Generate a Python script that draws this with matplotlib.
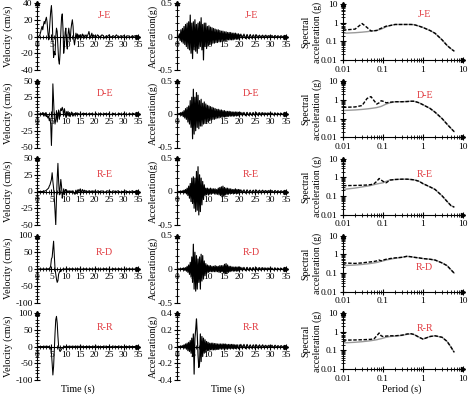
import numpy as np
import matplotlib
matplotlib.use("Agg")
from matplotlib import pyplot as plt
from matplotlib.ticker import MultipleLocator, FixedLocator, FuncFormatter, LogLocator, NullFormatter

plt.rcParams['font.family'] = ['Liberation Serif', 'DejaVu Serif']
plt.rcParams['font.size'] = 6.8
plt.rcParams['axes.unicode_minus'] = False

# record names (one per row)
names = ["J-E", "D-E", "R-E", "R-D", "R-R"]

# time grid: 0.25 s steps to 20 s, then 0.5 s steps to 35 s
t_main = np.arange(80) * 0.25
t_tail = 20 + np.arange(31) * 0.5
time = np.concatenate([t_main, t_tail])

# velocity (cm/s)
vel_je = [0, 0, 0, 0.5, 2, 5, 9, 12, 8, 14, 18, 15, 20, 23, 17, 6, -4, 5, 18, 30,
          37, 22, -5, -25, -18, -22, 0, 10, 6, -12, -28, -33, -20, 5, 22, 27, 10, -20, -12, 5,
          10, -8, -15, 2, 10, 3, -6, 8, 15, 20, 12, -4, -10, -3, 4, -2, 3, -3, 2, -1,
          2, -2, 1, 3, -1, 2, -2, 1, 2, -1, 1, 3, 6, 2, -2, 1, 4, -1, 2, 0,
          1, -1, 2, 0, -1, 2, 1, -2, 1, 0, 2, -1, 0, 1, -1, 2, 0, -1, 1, 0,
          1, -1, 0, 1, 0, -1, 1, 0, 1, 0, 0]
vel_de = [0, 0, 0, 0, 0, 1, -1, 1, 2, -2, 1, -3, 2, -4, -2, -6, -3, -10, -6, -15,
          -47, -10, 45, 20, -5, -15, -8, 5, -12, -3, 6, -8, 3, 8, 5, 10, 6, -3, 8, 2,
          -5, 3, -2, 4, -3, 2, -4, 1, 3, -2, 1, -3, 1, -1, 2, 0, -1, 1, 0, -1,
          1, 0, -1, 1, 0, -1, 1, 0, 1, 0, -1, 0, 1, -1, 0, 1, 0, 1, 0, -1,
          0, 1, -1, 0, 1, 0, -1, 1, 0, 0, 1, -1, 0, 1, 0, -1, 0, 1, 0, -1,
          1, 0, 0, -1, 1, 0, 0, 1, -1, 0, 0]
vel_re = [0, 0, 0, 0, 0, 0, 0, 0, 0, 1, 0, 1, 1, 2, 3, 4, 5, 8, 10, 14,
          18, 28, 15, 5, -10, -30, -50, -10, 20, 42, 15, -5, 5, 18, 8, -10, -3, 4, -5, 2,
          3, -2, 1, -1, 1, 0, -1, 1, 0, -1, 1, -2, -4, -1, 2, -3, 1, 3, -1, 2,
          4, 1, -2, 3, 1, -1, 2, 0, 1, 0, -1, 1, 0, 1, 0, -1, 1, 0, 0, 1,
          0, -1, 1, 0, 0, 1, 0, -1, 0, 1, 0, 0, -1, 1, 0, 0, 1, 0, -1, 0,
          0, 1, 0, 0, -1, 0, 1, 0, 0, 0, 0]
vel_rd = [0, 0, 0, 0, 0, 0, 0, 0, 0, 0, 0, 0, 0, 0, 1, 0, 1, 0, 2, 10,
          30, 35, 60, 83, 40, 0, -15, -30, -40, -35, -15, -10, -5, -8, -3, -1, 0, 1, 0, -1,
          1, 0, 0, 1, 0, -1, 0, 1, 0, 0, 1, 0, -1, 0, 1, 0, 0, 1, 0, 0,
          1, 0, -1, 0, 0, 1, 0, 0, 1, 0, 0, -1, 0, 0, 1, 0, 0, -1, 0, 0,
          0, 1, 0, 0, -1, 0, 0, 1, 0, 0, 0, -1, 0, 1, 0, 0, 0, 1, 0, 0,
          -1, 0, 0, 0, 1, 0, 0, 0, 0, 0, 0]
vel_rr = [0, 0, 0, 0, 0, 0, 0, 0, 0, 0, 0, 1, 0, -1, 1, 0, -1, 1, -2, -5,
          -20, -50, -85, -60, -10, 40, 80, 90, 70, 30, 0, -10, -15, -12, -8, -5, -3, 0, 1, -1,
          0, 1, 0, -1, 1, 0, 0, 1, 0, -1, 0, 1, 0, 0, 1, 0, -1, 0, 1, 0,
          0, 1, 0, 0, 1, 0, -1, 0, 0, 1, 0, 0, 1, 0, 0, -1, 0, 0, 1, 0,
          0, 1, 0, 0, -1, 0, 0, 1, 0, 0, 0, -1, 0, 1, 0, 0, 0, 1, 0, 0,
          -1, 0, 0, 0, 1, 0, 0, 0, 0, 0, 0]

# acceleration (g)
acc_tail_a = [-0.04, 0.035, -0.03, 0.035, -0.03, 0.03, -0.03, 0.03, -0.025, 0.025,
              -0.025, 0.025, -0.02, 0.02, -0.02, 0.02, -0.02, 0.02, -0.015, 0.015,
              -0.015, 0.015, -0.015, 0.015, -0.01, 0.01, -0.01, 0.01, -0.01, 0.005, 0]
acc_tail_b = [-0.03, 0.025, -0.025, 0.025, -0.025, 0.025, -0.02, 0.02, -0.02, 0.02,
              -0.02, 0.02, -0.02, 0.02, -0.02, 0.02, -0.015, 0.015, -0.015, 0.015,
              -0.015, 0.015, -0.015, 0.015, -0.01, 0.01, -0.01, 0.01, -0.01, 0.005, 0]
acc_je = [0, 0.01, -0.02, 0.04, -0.06, 0.1, -0.08, 0.12, -0.1, 0.15, -0.12, 0.18,
          -0.15, 0.2, -0.18, 0.22, -0.2, 0.32, -0.25, 0.2, -0.33, 0.22, -0.2, 0.25,
          -0.22, 0.18, -0.25, 0.2, -0.18, 0.22, -0.15, 0.28, -0.2, 0.18, -0.35, 0.2,
          -0.15, 0.2, -0.18, 0.15, -0.14, 0.16, -0.12, 0.14, -0.12, 0.13, -0.1, 0.12,
          -0.1, 0.11, -0.09, 0.1, -0.09, 0.1, -0.08, 0.09, -0.08, 0.08, -0.07, 0.08,
          -0.07, 0.07, -0.06, 0.07, -0.06, 0.06, -0.05, 0.06, -0.05, 0.06, -0.05, 0.05,
          -0.05, 0.05, -0.04, 0.05, -0.04, 0.04, -0.04, 0.04] + acc_tail_a
acc_de = [0, 0, 0, 0.01, -0.01, 0.02, -0.02, 0.03, -0.04, 0.05, -0.06, 0.08,
          -0.08, 0.1, -0.12, 0.12, -0.15, 0.2, -0.2, 0.25, -0.37, 0.37, -0.3, 0.25,
          -0.25, 0.32, -0.2, 0.28, -0.22, 0.2, -0.18, 0.22, -0.18, 0.16, -0.15, 0.18,
          -0.14, 0.15, -0.12, 0.13, -0.12, 0.12, -0.1, 0.11, -0.09, 0.1, -0.08, 0.09,
          -0.08, 0.08, -0.07, 0.07, -0.06, 0.07, -0.06, 0.06, -0.05, 0.06, -0.05, 0.05,
          -0.04, 0.05, -0.04, 0.04, -0.04, 0.04, -0.035, 0.04, -0.03, 0.035, -0.03, 0.03,
          -0.03, 0.03, -0.03, 0.03, -0.025, 0.03, -0.025, 0.025] + acc_tail_b
acc_re = [0, 0, 0, 0, 0, 0.005, -0.005, 0.01, -0.01, 0.02, -0.02, 0.03,
          -0.03, 0.05, -0.06, 0.08, -0.1, 0.12, -0.15, 0.2, -0.18, 0.22, -0.25, 0.2,
          -0.3, 0.3, -0.28, 0.37, -0.35, 0.25, -0.3, 0.2, -0.2, 0.15, -0.12, 0.1,
          -0.06, 0.05, -0.05, 0.05, -0.04, 0.04, -0.04, 0.05, -0.04, 0.04, -0.03, 0.04,
          -0.03, 0.04, -0.04, 0.03, -0.04, 0.05, -0.05, 0.06, -0.06, 0.07, -0.08, 0.08,
          -0.07, 0.06, -0.05, 0.05, -0.04, 0.05, -0.04, 0.04, -0.03, 0.04, -0.03, 0.03,
          -0.03, 0.03, -0.03, 0.04, -0.03, 0.03, -0.03, 0.03] + acc_tail_b
acc_rd = [0, 0, 0, 0, 0, 0.005, -0.005, 0.01, -0.01, 0.015, -0.02, 0.02,
          -0.03, 0.04, -0.05, 0.06, -0.08, 0.1, -0.12, 0.18, -0.2, 0.37, -0.3, 0.25,
          -0.33, 0.2, -0.3, 0.15, -0.2, 0.18, -0.3, 0.22, -0.18, 0.2, -0.15, 0.12,
          -0.1, 0.08, -0.07, 0.06, -0.05, 0.05, -0.04, 0.05, -0.04, 0.04, -0.04, 0.04,
          -0.04, 0.05, -0.04, 0.04, -0.04, 0.04, -0.05, 0.05, -0.05, 0.05, -0.04, 0.05,
          -0.06, 0.07, -0.07, 0.08, -0.07, 0.06, -0.05, 0.04, -0.04, 0.04, -0.03, 0.03,
          -0.03, 0.03, -0.03, 0.03, -0.03, 0.03, -0.03, 0.03] + acc_tail_b
acc_rr = [0, 0, 0, 0, 0, 0.005, -0.005, 0.01, -0.01, 0.02, -0.02, 0.03,
          -0.03, 0.04, -0.05, 0.05, -0.06, 0.07, -0.08, 0.1, -0.12, 0.15, -0.33, 0.1,
          0.2, 0.33, 0.15, -0.1, -0.25, -0.2, 0.15, -0.18, 0.12, -0.12, 0.1, -0.08,
          0.08, -0.07, 0.06, -0.05, 0.05, -0.05, 0.04, -0.04, 0.04, -0.04, 0.04, -0.04,
          0.035, -0.04, 0.035, -0.035, 0.03, -0.035, 0.03, -0.03, 0.03, -0.03, 0.03, -0.03,
          0.03, -0.03, 0.03, -0.03, 0.025, -0.03, 0.025, -0.025, 0.025, -0.025, 0.025, -0.025,
          0.025, -0.025, 0.02, -0.025, 0.02, -0.02, 0.02, -0.02] + acc_tail_b

# response spectra (g): dashed = record, grey = target
period = [0.01, 0.02, 0.03, 0.04, 0.05, 0.06, 0.07, 0.08, 0.09, 0.1, 0.12, 0.15, 0.2,
          0.3, 0.4, 0.5, 0.6, 0.8, 1.0, 1.5, 2.0, 3.0, 4.0, 5.0, 6.0]
sa_rec_je = [0.4, 0.45, 0.9, 0.55, 0.36, 0.37, 0.38, 0.45, 0.5, 0.55, 0.65, 0.7, 0.8,
             0.8, 0.8, 0.8, 0.78, 0.65, 0.55, 0.38, 0.27, 0.12, 0.06, 0.04, 0.03]
sa_tgt_je = [0.27, 0.29, 0.31, 0.33, 0.35, 0.37, 0.39, 0.42, 0.45, 0.5, 0.6, 0.7, 0.8,
             0.8, 0.8, 0.8, 0.78, 0.65, 0.55, 0.38, 0.27, 0.12, 0.06, 0.04, 0.03]
sa_rec_de = [0.4, 0.42, 0.5, 1.2, 1.5, 0.9, 0.6, 0.7, 0.9, 0.85, 0.7, 0.75, 0.8,
             0.8, 0.82, 0.85, 0.85, 0.7, 0.55, 0.35, 0.22, 0.1, 0.05, 0.03, 0.02]
sa_tgt_de = [0.27, 0.29, 0.31, 0.33, 0.35, 0.37, 0.39, 0.42, 0.45, 0.5, 0.6, 0.7, 0.8,
             0.8, 0.82, 0.85, 0.85, 0.7, 0.55, 0.35, 0.22, 0.1, 0.05, 0.03, 0.02]
sa_rec_re = [0.35, 0.36, 0.37, 0.38, 0.4, 0.45, 0.6, 0.85, 0.7, 0.6, 0.5, 0.7, 0.75,
             0.78, 0.78, 0.75, 0.72, 0.6, 0.45, 0.3, 0.22, 0.1, 0.05, 0.03, 0.025]
sa_tgt_re = [0.22, 0.26, 0.3, 0.33, 0.36, 0.4, 0.43, 0.46, 0.48, 0.5, 0.6, 0.7, 0.75,
             0.78, 0.78, 0.75, 0.72, 0.6, 0.45, 0.3, 0.22, 0.1, 0.05, 0.03, 0.025]
sa_rec_rd = [0.35, 0.33, 0.35, 0.38, 0.4, 0.42, 0.45, 0.5, 0.45, 0.5, 0.55, 0.6, 0.65,
             0.7, 0.8, 0.75, 0.7, 0.65, 0.6, 0.55, 0.5, 0.35, 0.25, 0.15, 0.1]
sa_tgt_rd = [0.25, 0.27, 0.29, 0.31, 0.33, 0.35, 0.37, 0.4, 0.43, 0.45, 0.5, 0.55, 0.62,
             0.7, 0.78, 0.75, 0.7, 0.65, 0.6, 0.55, 0.5, 0.35, 0.25, 0.15, 0.1]
sa_rec_rr = [0.35, 0.36, 0.37, 0.38, 0.39, 0.42, 0.6, 0.85, 0.6, 0.55, 0.58, 0.6, 0.6,
             0.65, 0.75, 0.78, 0.7, 0.5, 0.4, 0.55, 0.6, 0.5, 0.3, 0.15, 0.08]
sa_tgt_rr = [0.25, 0.27, 0.29, 0.31, 0.33, 0.35, 0.37, 0.4, 0.42, 0.45, 0.5, 0.55, 0.58,
             0.63, 0.72, 0.76, 0.7, 0.5, 0.4, 0.55, 0.6, 0.5, 0.3, 0.15, 0.08]

vel = [vel_je, vel_de, vel_re, vel_rd, vel_rr]
acc = [acc_je, acc_de, acc_re, acc_rd, acc_rr]
sa_rec = [sa_rec_je, sa_rec_de, sa_rec_re, sa_rec_rd, sa_rec_rr]
sa_tgt = [sa_tgt_je, sa_tgt_de, sa_tgt_re, sa_tgt_rd, sa_tgt_rr]

# axis limits / tick steps per row
vel_lim = [(40, 20, 5), (50, 25, 5), (50, 25, 5), (100, 50, 10), (100, 50, 10)]
acc_lim = [(0.5, 0.5, 0.1), (0.5, 0.5, 0.1), (0.5, 0.5, 0.1), (0.5, 0.5, 0.1), (0.4, 0.2, 0.05)]
lab_y_time = [0.82, 0.8, 0.76, 0.74, 0.78]
lab_y_spec = [0.82, 0.75, 0.71, 0.43, 0.73]

W, H = 474, 394
fig = plt.figure(figsize=(W / 100, H / 100), dpi=100)
red = '#e0393e'
fmt = FuncFormatter(lambda v, p: '%g' % round(v, 3))


def box(left, top, w, h):
    return [left / W, 1 - (top + h) / H, w / W, h / H]


def time_axes(ax, lim, step, minor):
    ax.set_xlim(0, 35)
    ax.set_ylim(-lim, lim)
    ax.spines['top'].set_visible(False)
    ax.spines['right'].set_visible(False)
    ax.spines['bottom'].set_position(('data', 0))
    ax.xaxis.set_major_locator(MultipleLocator(5))
    ax.xaxis.set_minor_locator(MultipleLocator(1))
    ax.yaxis.set_major_locator(MultipleLocator(step))
    ax.yaxis.set_minor_locator(MultipleLocator(minor))
    ax.xaxis.set_major_formatter(fmt)
    ax.yaxis.set_major_formatter(fmt)
    ax.tick_params(which='major', direction='inout', length=4, width=0.8, pad=1)
    ax.tick_params(which='minor', direction='inout', length=2.5, width=0.6)
    ax.patch.set_visible(False)
    ax.plot([0], [1], '^', ms=3, color='k', transform=ax.transAxes, clip_on=False)
    ax.plot([1], [0], '>', ms=3, color='k', transform=ax.get_yaxis_transform(), clip_on=False)


pitch = 77.5
for i in range(5):
    top = 3 + pitch * i
    # velocity
    ax = fig.add_axes(box(37, top, 101, 67))
    lim, step, minor = vel_lim[i]
    time_axes(ax, lim, step, minor)
    ax.plot(time, vel[i], color='k', lw=0.75)
    ax.text(0.67, lab_y_time[i], names[i], color=red, transform=ax.transAxes,
            ha='center', va='center', fontsize=7.2)
    fig.text(8 / W, 1 - (top + 33) / H, 'Velocity (cm/s)', rotation=90,
             ha='center', va='center', fontsize=7.2)

    # acceleration
    ax = fig.add_axes(box(177, top, 109, 67))
    lim, step, minor = acc_lim[i]
    time_axes(ax, lim, step, minor)
    ax.plot(time, acc[i], color='k', lw=0.85)
    ax.text(0.68, lab_y_time[i], names[i], color=red, transform=ax.transAxes,
            ha='center', va='center', fontsize=7.2)
    fig.text(153 / W, 1 - (top + 33) / H, 'Acceleration(g)', rotation=90,
             ha='center', va='center', fontsize=7.2)

    # response spectrum
    stop = 4 + 77.25 * i
    ax = fig.add_axes(box(343, stop, 120, 56))
    ax.set_xscale('log')
    ax.set_yscale('log')
    ax.set_xlim(0.01, 10)
    ax.set_ylim(0.01, 10)
    ax.spines['top'].set_visible(False)
    ax.spines['right'].set_visible(False)
    ax.xaxis.set_major_locator(FixedLocator([0.01, 0.1, 1, 10]))
    ax.yaxis.set_major_locator(FixedLocator([0.01, 0.1, 1, 10]))
    ax.xaxis.set_minor_locator(LogLocator(subs=np.arange(2, 10)))
    ax.yaxis.set_minor_locator(LogLocator(subs=np.arange(2, 10)))
    ax.xaxis.set_minor_formatter(NullFormatter())
    ax.yaxis.set_minor_formatter(NullFormatter())
    ax.xaxis.set_major_formatter(fmt)
    ax.yaxis.set_major_formatter(fmt)
    ax.tick_params(which='major', direction='inout', length=4, width=0.8, pad=2)
    ax.tick_params(which='minor', direction='inout', length=2.5, width=0.6)
    ax.patch.set_visible(False)
    ax.plot(period, sa_tgt[i], color='#9a9a9a', lw=1.0)
    ax.plot(period, sa_rec[i], color='k', lw=1.0, ls=(0, (2.5, 1.2)))
    ax.plot([0], [1], '^', ms=3, color='k', transform=ax.transAxes, clip_on=False)
    ax.plot([1], [0], '>', ms=3, color='k', transform=ax.transAxes, clip_on=False)
    ax.text(0.68, lab_y_spec[i], names[i], color=red, transform=ax.transAxes,
            ha='center', va='center', fontsize=7.2)
    fig.text(306 / W, 1 - (stop + 28) / H, 'Spectral', rotation=90,
             ha='center', va='center', fontsize=7)
    fig.text(317 / W, 1 - (stop + 28) / H, 'acceleration (g)', rotation=90,
             ha='center', va='center', fontsize=7)

fig.text(78 / W, 1 - 389 / H, 'Time (s)', ha='center', va='center', fontsize=7.2)
fig.text(228 / W, 1 - 389 / H, 'Time (s)', ha='center', va='center', fontsize=7.2)
fig.text(402 / W, 1 - 389 / H, 'Period (s)', ha='center', va='center', fontsize=7.2)

fig.savefig('out.png', dpi=100)
